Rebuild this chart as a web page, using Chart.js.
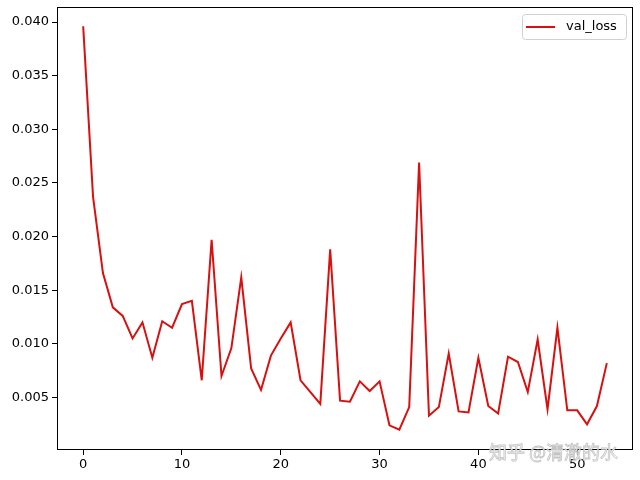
<!DOCTYPE html>
<html>
<head>
<meta charset="utf-8">
<script src="https://cdn.jsdelivr.net/npm/chart.js@4/dist/chart.umd.min.js"></script>
<style>
  html, body { margin: 0; padding: 0; background: #fff; }
  #wrap { width: 640px; height: 480px; }
</style>
</head>
<body>
<div id="wrap"><canvas id="lossChart" width="640" height="480"></canvas></div>
<script>
// epochs 0..53
const epochs = [];
for (let i = 0; i < 54; i++) epochs.push(i);

const valLoss = [
    0.0396, 0.0237, 0.0166, 0.0134, 0.0126, 0.0105, 0.0120, 0.0087, 0.0121, 0.0115,
    0.0137, 0.0140, 0.0066, 0.0197, 0.0070, 0.0096, 0.0162, 0.0077, 0.0057, 0.0089,
    0.0105, 0.0120, 0.0066, 0.0055, 0.0044, 0.0188, 0.0047, 0.0046, 0.0065, 0.0056,
    0.0065, 0.0024, 0.0020, 0.0041, 0.0269, 0.0033, 0.0041, 0.0091, 0.0037, 0.0036,
    0.0087, 0.0042, 0.0035, 0.0088, 0.0083, 0.0055, 0.0104, 0.0039, 0.0115, 0.0038,
    0.0038, 0.0025, 0.0042, 0.0082
];

const xTicks = [0, 10, 20, 30, 40, 50];
const yTicks = [0.005, 0.010, 0.015, 0.020, 0.025, 0.030, 0.035, 0.040];

const seriesLabel = 'val_loss';
const watermark = '知乎 @清澈的水';

const FONT = '"DejaVu Sans", sans-serif';
const lineColor = '#d81010';

// frame around the plot area + legend + watermark
const extras = {
    id: 'extras',
    afterDraw(chart) {
        const ctx = chart.ctx;
        const a = chart.chartArea;
        ctx.save();
        ctx.strokeStyle = '#000';
        ctx.lineWidth = 1;
        ctx.strokeRect(Math.round(a.left) + 0.5, Math.round(a.top) + 0.5,
            Math.round(a.right - a.left) - 1, Math.round(a.bottom - a.top) - 1);

        // legend box
        const bx = 522.5, by = 14.5, bw = 104, bh = 25;
        ctx.beginPath();
        ctx.roundRect(bx, by, bw, bh, 3);
        ctx.fillStyle = 'rgba(255,255,255,0.8)';
        ctx.fill();
        ctx.strokeStyle = '#d0d0d0';
        ctx.stroke();
        ctx.beginPath();
        ctx.moveTo(526, 27);
        ctx.lineTo(555, 27);
        ctx.strokeStyle = lineColor;
        ctx.lineWidth = 2;
        ctx.stroke();
        ctx.fillStyle = '#000';
        ctx.font = '13px ' + FONT;
        ctx.textBaseline = 'middle';
        ctx.fillText(chart.data.datasets[0].label, 566, 27);

        // watermark
        ctx.font = '18px "Noto Sans CJK SC", sans-serif';
        ctx.textBaseline = 'middle';
        ctx.lineWidth = 0.8;
        ctx.strokeStyle = 'rgba(170,170,170,0.7)';
        ctx.fillStyle = 'rgba(255,255,255,0.9)';
        ctx.fillText(watermark, 489, 452);
        ctx.strokeText(watermark, 489, 452);
        ctx.restore();
    }
};

new Chart(document.getElementById('lossChart'), {
    type: 'line',
    data: {
        labels: epochs,
        datasets: [{
            label: seriesLabel,
            data: valLoss.map((v, i) => ({ x: epochs[i], y: v })),
            borderColor: lineColor,
            borderWidth: 2,
            pointRadius: 0,
            tension: 0,
            fill: false
        }]
    },
    options: {
        responsive: false,
        animation: false,
        layout: { padding: { top: 7, right: 7, left: 0, bottom: 0 } },
        plugins: {
            legend: { display: false },
            tooltip: { enabled: false }
        },
        scales: {
            x: {
                type: 'linear',
                min: -2.65,
                max: 55.65,
                afterBuildTicks: s => { s.ticks = xTicks.map(v => ({ value: v })); },
                afterFit: s => { s.height = 30; s.paddingLeft = 0; s.paddingRight = 0; },
                grid: { drawOnChartArea: false, tickLength: 5, tickColor: '#000' },
                border: { display: false },
                ticks: {
                    color: '#000',
                    font: { family: FONT, size: 13 },
                    padding: 2,
                    maxRotation: 0
                }
            },
            y: {
                min: 0.0001,
                max: 0.0414,
                afterBuildTicks: s => { s.ticks = yTicks.map(v => ({ value: v })); },
                afterFit: s => { s.width = 57; s.paddingTop = 0; s.paddingBottom = 0; },
                grid: { drawOnChartArea: false, tickLength: 5, tickColor: '#000' },
                border: { display: false },
                ticks: {
                    color: '#000',
                    font: { family: FONT, size: 13 },
                    padding: 3,
                    callback: v => v.toFixed(3)
                }
            }
        }
    },
    plugins: [extras]
});
</script>
</body>
</html>
